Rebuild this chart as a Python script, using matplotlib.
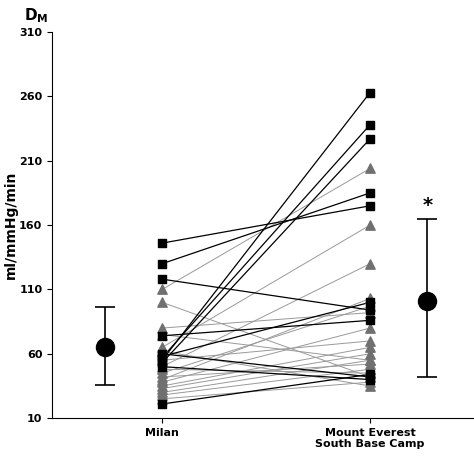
import matplotlib
matplotlib.use("Agg")
import matplotlib.pyplot as plt

categories = ["Milan", "Mount Everest\nSouth Base Camp"]
sq_milan = [146, 130, 118, 74, 55, 57, 53, 60, 58, 21, 50]
sq_everest = [175, 185, 94, 86, 263, 238, 227, 42, 100, 44, 40]
tri_milan = [110, 100, 75, 65, 50, 45, 40, 38, 35, 33, 30, 28, 25, 42, 48, 55, 62, 80]
tri_everest = [204, 42, 55, 160, 130, 97, 103, 80, 65, 60, 55, 48, 38, 52, 45, 70, 35, 92]
mean_vals = [65, 101]
mean_lo = [36, 42]
mean_hi = [96, 165]

fig = plt.figure(figsize=(4.74, 4.58), dpi=100)
ax = fig.add_axes([0.11, 0.087, 0.89, 0.843])
xm, xe = 1, 3
for a, b in zip(tri_milan, tri_everest):
    ax.plot([xm, xe], [a, b], color="#999999", lw=0.7, zorder=1)
for a, b in zip(sq_milan, sq_everest):
    ax.plot([xm, xe], [a, b], color="black", lw=0.9, zorder=2)
ax.scatter([xm]*len(tri_milan) + [xe]*len(tri_everest), tri_milan + tri_everest,
           marker="^", s=45, color="#707070", zorder=3)
ax.scatter([xm]*len(sq_milan) + [xe]*len(sq_everest), sq_milan + sq_everest,
           marker="s", s=32, color="black", zorder=4)
for x, m, lo, hi in zip([0.45, 3.55], mean_vals, mean_lo, mean_hi):
    ax.errorbar([x], [m], yerr=[[m - lo], [hi - m]], fmt="o", color="black",
                ms=13, capsize=7, elinewidth=1.2, capthick=1.2, zorder=5)
ax.text(3.55, 168, "*", ha="center", va="bottom", fontsize=14, fontweight="bold")
ax.set_xlim(-0.058, 4.0)
ax.set_ylim(10, 310)
ax.set_yticks(range(10, 311, 50))
ax.set_xticks([xm, xe])
ax.set_xticklabels(categories, fontweight="bold", fontsize=8)
for t in ax.get_yticklabels():
    t.set_fontweight("bold"); t.set_fontsize(8)
ax.spines["top"].set_visible(False)
ax.spines["right"].set_visible(False)
ax.set_ylabel("ml/mmHg/min", fontweight="bold", fontsize=10, labelpad=1)
fig.text(0.05, 0.955, r"$\mathbf{D_M}$", fontsize=11, fontweight="bold")
fig.savefig("out.png")
